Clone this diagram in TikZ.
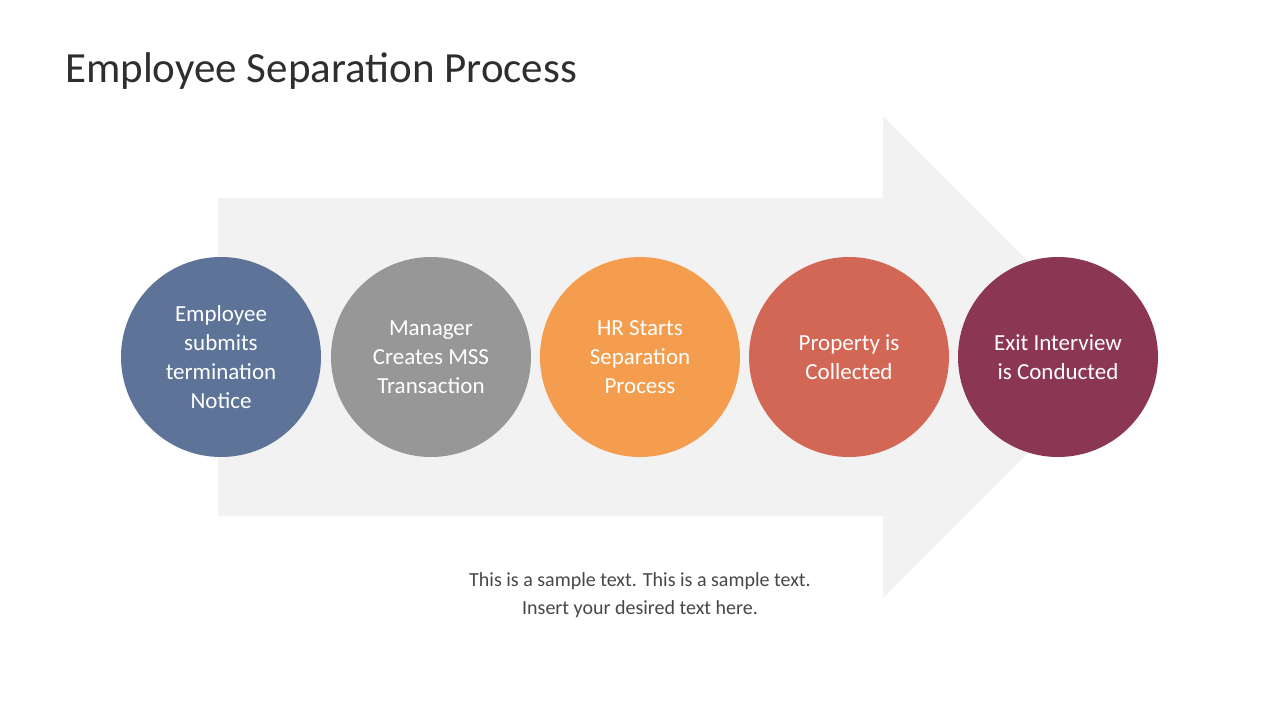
\documentclass[tikz,border=0pt]{standalone}
\usepackage{fontspec}
\setmainfont{Carlito}
\begin{document}
\begin{tikzpicture}[x=1pt,y=-1pt,
  step circle/.style={circle,minimum size=200pt,inner sep=0pt,text=white,align=center,font=\fontsize{23}{29}\selectfont}]
\useasboundingbox (0,0) rectangle (1280,720);
\fill[white] (0,0) rectangle (1280,720);
\node[anchor=base west,text=black!82,font=\fontsize{43}{50}\selectfont,inner sep=0pt] (title) at (65,82) {Employee Separation Process};
\fill[black!5] (218,198) -- (883,198) -- (883,116) -- (1124,357) -- (883,598) -- (883,516) -- (218,516) -- cycle;
\definecolor{c1}{HTML}{5D7397}\definecolor{c2}{HTML}{979797}\definecolor{c3}{HTML}{F49D4E}
\definecolor{c4}{HTML}{D26756}\definecolor{c5}{HTML}{8B3652}
\node[step circle,fill=c1] (s1) at (221,357) {Employee\\submits\\termination\\Notice};
\node[step circle,fill=c2] (s2) at (431,357) {Manager\\Creates MSS\\Transaction};
\node[step circle,fill=c3] (s3) at (640,357) {HR Starts\\Separation\\Process};
\node[step circle,fill=c4] (s4) at (849,357) {Property is\\Collected};
\node[step circle,fill=c5] (s5) at (1058,357) {Exit Interview\\is Conducted};
\node[align=center,text=black!72,font=\fontsize{20}{28}\selectfont] (note) at (640,595) {This is a sample text. This is a sample text.\\Insert your desired text here.};
\end{tikzpicture}
\end{document}
